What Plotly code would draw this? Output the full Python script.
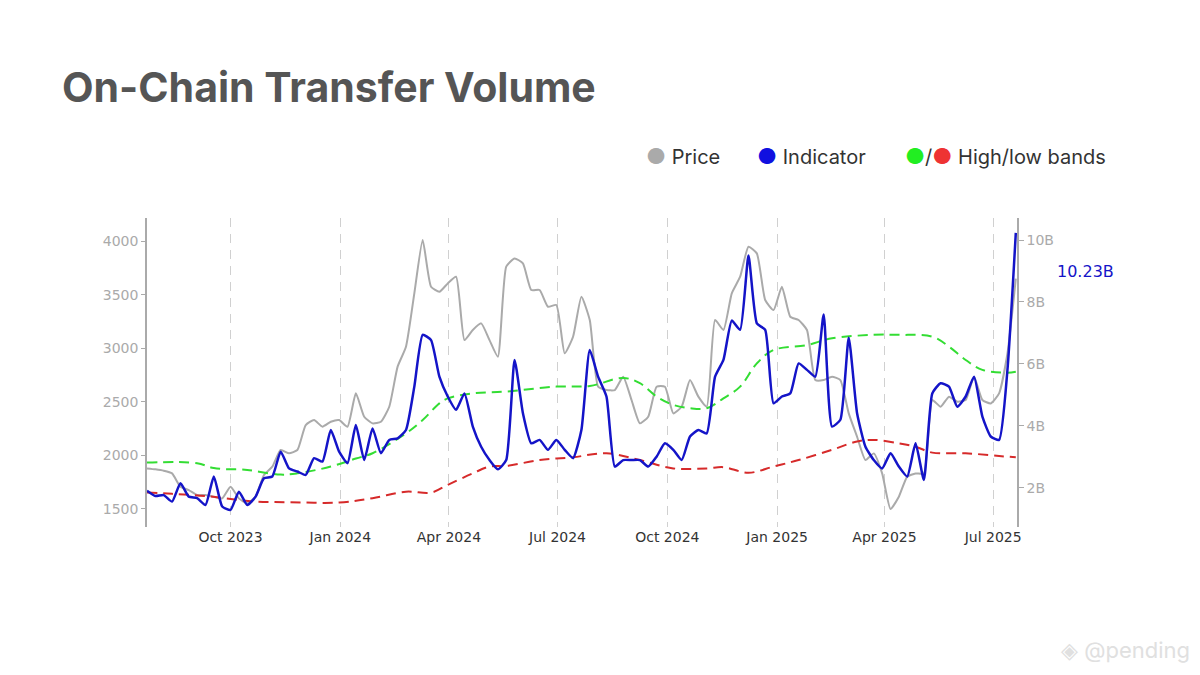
import pandas as pd
import plotly.graph_objects as go

# weekly samples
dates = pd.date_range("2023-07-23", periods=105, freq="7D")

price = [1879, 1870, 1857, 1832, 1708, 1677, 1630, 1630, 1615, 1599,
         1708, 1599, 1553, 1615, 1817, 1895, 2050, 2019, 2050, 2283,
         2330, 2268, 2314, 2330, 2268, 2579, 2361, 2299, 2314, 2454,
         2828, 3014, 3512, 4009, 3574, 3527, 3605, 3667, 3076, 3170,
         3232, 3076, 2921, 3761, 3838, 3792, 3543, 3543, 3387, 3403,
         2952, 3107, 3481, 3263, 2641, 2610, 2610, 2734, 2517, 2299,
         2361, 2641, 2641, 2392, 2454, 2703, 2548, 2454, 3263, 3170,
         3512, 3667, 3947, 3885, 3450, 3356, 3574, 3294, 3263, 3170,
         2703, 2703, 2734, 2703, 2392, 2174, 1957, 2019, 1832, 1500,
         1615, 1801, 1832, 1832, 2517, 2454, 2548, 2501, 2517, 2734,
         2517, 2485, 2579, 2952, 3650]

# indicator, billions
indicator = [1.91, 1.74, 1.77, 1.56, 2.15, 1.72, 1.67, 1.45, 2.37, 1.40,
             1.29, 1.88, 1.45, 1.72, 2.31, 2.37, 3.17, 2.63, 2.53, 2.42,
             2.96, 2.85, 3.87, 3.17, 2.80, 4.03, 2.90, 3.92, 3.12, 3.55,
             3.60, 3.87, 5.27, 6.94, 6.77, 5.59, 4.95, 4.52, 5.05, 3.98,
             3.33, 2.90, 2.60, 2.90, 6.13, 4.41, 3.44, 3.55, 3.23, 3.55,
             3.23, 2.96, 3.87, 6.45, 5.59, 4.95, 2.69, 2.90, 2.90, 2.90,
             2.69, 3.01, 3.44, 3.23, 2.90, 3.66, 3.87, 3.76, 5.59, 6.13,
             7.40, 7.10, 9.50, 7.31, 7.10, 4.73, 4.95, 5.05, 6.02, 5.81,
             5.59, 7.60, 3.98, 4.20, 6.85, 4.41, 3.33, 2.90, 2.63, 3.12,
             2.69, 2.37, 3.44, 2.26, 5.05, 5.38, 5.27, 4.62, 4.95, 5.59,
             4.30, 3.66, 3.55, 5.81, 10.23]

high_dates = ["2023-07-23", "2023-09-03", "2023-09-17", "2023-10-15", "2023-11-12",
              "2023-11-26", "2023-12-24", "2024-01-14", "2024-01-28", "2024-02-25",
              "2024-03-10", "2024-03-24", "2024-03-31", "2024-04-21", "2024-05-19",
              "2024-06-30", "2024-07-28", "2024-08-25", "2024-09-08", "2024-09-22",
              "2024-10-06", "2024-10-20", "2024-11-03", "2024-11-17", "2024-12-01",
              "2024-12-15", "2024-12-29", "2025-01-26", "2025-02-16", "2025-03-23",
              "2025-04-13", "2025-05-11", "2025-05-25", "2025-06-08", "2025-06-22",
              "2025-07-13", "2025-07-20"]
high_band = [2.82, 2.80, 2.64, 2.58, 2.43, 2.47, 2.69, 2.95, 3.12, 3.76,
             4.19, 4.73, 4.89, 5.05, 5.11, 5.27, 5.29, 5.55, 5.38, 4.95,
             4.68, 4.57, 4.57, 4.89, 5.27, 6.02, 6.45, 6.61, 6.83, 6.94,
             6.94, 6.88, 6.56, 6.13, 5.81, 5.72, 5.75]

low_dates = ["2023-07-23", "2023-08-13", "2023-09-10", "2023-10-08", "2023-10-22",
             "2023-11-19", "2023-12-31", "2024-01-28", "2024-02-25", "2024-03-17",
             "2024-03-31", "2024-04-21", "2024-05-05", "2024-05-19", "2024-06-16",
             "2024-07-14", "2024-08-11", "2024-09-08", "2024-10-06", "2024-11-03",
             "2024-11-17", "2024-12-08", "2024-12-29", "2025-01-19", "2025-02-16",
             "2025-03-09", "2025-03-23", "2025-04-13", "2025-04-27", "2025-05-11",
             "2025-06-08", "2025-07-06", "2025-07-20"]
low_band = [1.85, 1.81, 1.74, 1.61, 1.56, 1.54, 1.53, 1.67, 1.88, 1.85,
            2.10, 2.47, 2.69, 2.71, 2.90, 2.99, 3.12, 2.90, 2.63, 2.63,
            2.67, 2.49, 2.69, 2.90, 3.23, 3.50, 3.55, 3.44, 3.33, 3.14,
            3.12, 3.03, 2.99]

price_ticks = [1500, 2000, 2500, 3000, 3500, 4000]
ind_ticks = [2, 4, 6, 8, 10]

tick_font = "DejaVu Sans, Verdana, sans-serif"

fig = go.Figure()
fig.add_trace(go.Scatter(x=dates, y=price, mode="lines", name="Price",
                         line=dict(color="#aaaaaa", width=2, shape="spline", smoothing=0.5)))
fig.add_trace(go.Scatter(x=high_dates, y=high_band, mode="lines", yaxis="y2",
                         line=dict(color="#33dd33", width=2, dash="10px,6px", shape="spline")))
fig.add_trace(go.Scatter(x=low_dates, y=low_band, mode="lines", yaxis="y2",
                         line=dict(color="#d62a2a", width=2, dash="10px,6px", shape="spline")))
fig.add_trace(go.Scatter(x=dates, y=indicator, mode="lines", name="Indicator", yaxis="y2",
                         line=dict(color="#1414c8", width=2.5, shape="spline", smoothing=0.5)))

fig.update_layout(
    width=1200, height=675,
    paper_bgcolor="white", plot_bgcolor="white",
    margin=dict(l=139, r=191, t=210, b=156),
    showlegend=False,
    font=dict(family="Inter, Roboto, sans-serif", color="#444"),
    title=dict(text="<b>On-Chain Transfer Volume</b>", x=0.045, xanchor="left",
               y=0.8815, yanchor="middle", xref="container", yref="container",
               font=dict(size=41, color="#555555")),
    xaxis=dict(range=["2023-07-23", "2025-07-21"], tick0="2023-10-01", dtick="M3",
               tickformat="%b %Y", showgrid=True, gridcolor="#d0d0d0", griddash="9px,7px",
               gridwidth=1, showline=False, zeroline=False, ticks="",
               tickfont=dict(family=tick_font, size=14, color="#333")),
    yaxis=dict(range=[1332, 4215], tickvals=price_ticks, showgrid=False, zeroline=False,
               showline=True, linecolor="#aaaaaa", linewidth=1.5, ticks="outside",
               ticklen=4, tickcolor="#aaaaaa",
               tickfont=dict(family=tick_font, size=14, color="#aaaaaa")),
    yaxis2=dict(range=[0.74, 10.71], tickvals=ind_ticks,
                ticktext=[f"{v}B" for v in ind_ticks], overlaying="y", side="right",
                showgrid=False, zeroline=False, showline=True, linecolor="#aaaaaa",
                linewidth=1.5, ticks="outside", ticklen=5, tickcolor="#aaaaaa",
                tickfont=dict(family=tick_font, size=14, color="#aaaaaa")),
)

# legend drawn as text
dot = "<span style='color:{};font-size:22px'>●</span>"
legend_items = [
    (0.5715, dot.format("#aaaaaa") + " Price"),
    (0.6985, dot.format("#1010e0") + " Indicator"),
    (0.8695, dot.format("#22ee22") + "/" + dot.format("#ee3333") + " High/low bands"),
]
for x, txt in legend_items:
    fig.add_annotation(x=x, y=1.20, xref="paper", yref="paper", text=txt,
                       showarrow=False, xanchor="left", yanchor="middle",
                       font=dict(size=20, color="#333"))

fig.add_annotation(x=1.044, y=indicator[-1] - 1.25, xref="paper", yref="y2",
                   text="10.23B", showarrow=False, xanchor="left", yanchor="middle",
                   font=dict(family=tick_font, size=16, color="#1414c8"))

fig.add_annotation(x=1.201, y=-0.398, xref="paper", yref="paper", text="◈ @pending",
                   showarrow=False, xanchor="right", yanchor="middle",
                   font=dict(size=22, color="#e0e0e0"))

fig.write_html("out.html")
